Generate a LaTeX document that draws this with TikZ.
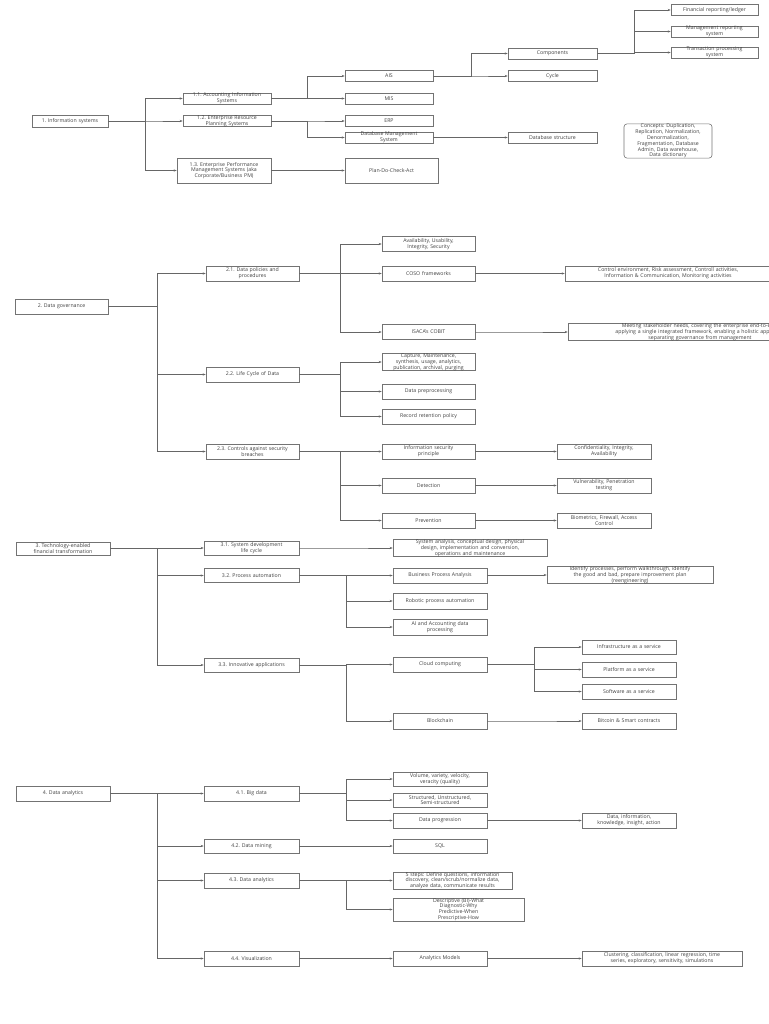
\documentclass[tikz,border=0pt]{standalone}
\usepackage{fontspec}
\setmainfont{Open Sans}
\usetikzlibrary{arrows.meta}
\frenchspacing
\newcommand\boxfont{\fontsize{5.2}{5.8}\selectfont\frenchspacing\hyphenpenalty=10000\relax}
\tikzset{
  box/.style={draw=black!55,line width=0.6pt,inner sep=0pt,align=center,font=\boxfont,text=black!75},
  arr/.style={draw=black!60,line width=0.5pt,-{Stealth[length=3pt,width=2.2pt]}}
}
\newcommand\bx[6]{\node[box,minimum width=#4pt,minimum height=#5pt,text width=#4pt-3pt] (#1) at (#2,#3) {#6};}
\newcommand\lk[3]{\draw[arr] (#1.east) -- (#1.east -| #2) |- (#3.west);}
\begin{document}
\begin{tikzpicture}[x=1pt,y=-1pt]
\useasboundingbox (0,0) rectangle (768,1024);
% ---------- Section 1
\bx{s1}{70}{121}{76}{12}{1. Information systems}
\bx{s11}{227}{98.5}{88}{11}{1.1. Accounting Information\\Systems}
\bx{s12}{227}{121}{88}{11}{1.2. Enterprise Resource\\Planning Systems}
\bx{s13}{224}{170.5}{94}{25}{1.3. Enterprise Performance\\Management Systems (aka\\Corporate/Business PM)}
\bx{ais}{389}{76}{88}{11}{AIS}
\bx{mis}{389}{98.5}{88}{11}{MIS}
\bx{erp}{389}{121}{88}{11}{ERP}
\bx{dbms}{389}{137.5}{88}{11}{Database Management\\System}
\bx{pdca}{391.5}{170.5}{93}{25}{Plan-Do-Check-Act}
\bx{comp}{552.5}{53.5}{89}{11}{Components}
\bx{cyc}{552.5}{76}{89}{11}{Cycle}
\bx{dbs}{552.5}{137.5}{89}{11}{Database structure}
\bx{frl}{714.5}{10}{87}{11}{Financial reporting/ledger}
\bx{mrs}{714.5}{31.5}{87}{11}{Management reporting\\system}
\bx{tps}{714.5}{52.5}{87}{11}{Transaction processing\\system}
\node[box,rounded corners=3pt,minimum width=88pt,minimum height=30pt,text width=85pt] (conc) at (668,141) {Concepts: Duplication,\\Replication, Normalization,\\Denormalization,\\Fragmentation, Database\\Admin, Data warehouse,\\Data dictionary};
\coordinate (b1) at (145,0); \coordinate (b2) at (307,0); \coordinate (b3) at (471,0); \coordinate (b4) at (634,0);
\lk{s1}{b1}{s11}\lk{s1}{b1}{s12}\lk{s1}{b1}{s13}
\lk{s11}{b2}{ais}\lk{s11}{b2}{mis}
\lk{s12}{b2}{erp}\lk{s12}{b2}{dbms}
\lk{s13}{b2}{pdca}
\lk{ais}{b3}{comp}\lk{ais}{b3}{cyc}
\lk{dbms}{b3}{dbs}
\lk{comp}{b4}{frl}\lk{comp}{b4}{mrs}\lk{comp}{b4}{tps}
% ---------- Section 2
\bx{s2}{61.5}{306.5}{93}{15}{2. Data governance}
\bx{s21}{252.5}{273.5}{93}{15}{2.1. Data policies and\\procedures}
\bx{s22}{252.5}{374.5}{93}{15}{2.2. Life Cycle of Data}
\bx{s23}{252.5}{451.5}{93}{15}{2.3. Controls against security\\breaches}
\bx{avail}{428.5}{244}{93}{15}{Availability, Usability,\\Integrity, Security}
\bx{coso}{428.5}{273.5}{93}{15}{COSO frameworks}
\bx{cobit}{428.5}{332}{93}{15}{ISACA's COBIT}
\bx{capt}{428.5}{362}{93}{14}{Capture, Maintenance,\\synthesis, usage, analytics,\\publication, archival, purging}
\bx{prep}{428.5}{391.5}{93}{15}{Data preprocessing}
\bx{rrp}{428.5}{416.5}{93}{15}{Record retention policy}
\bx{isp}{428.5}{451.5}{93}{15}{Information security\\principle}
\bx{det}{428.5}{485.5}{93}{15}{Detection}
\bx{prev}{428.5}{520.5}{93}{15}{Prevention}
\bx{cosod}{668}{273.5}{206}{15}{Control environment, Risk assessment, Controll activities,\\Information \& Communication, Monitoring activities}
\bx{cobitd}{700}{332}{264}{15}{Meeting stakeholder needs, covering the enterprise end-to-end,\\applying a single integrated framework, enabling a holistic approach,\\separating governance from management}
\bx{cia}{604}{451.5}{94}{15}{Confidentiality, Integrity,\\Availability}
\bx{vpt}{604}{485.5}{94}{15}{Vulnerability, Penetration\\testing}
\bx{bfa}{604}{520.5}{94}{15}{Biometrics, Firewall, Access\\Control}
\coordinate (c1) at (157,0); \coordinate (c2) at (340,0); \coordinate (c3) at (520,0);
\lk{s2}{c1}{s21}\lk{s2}{c1}{s22}\lk{s2}{c1}{s23}
\lk{s21}{c2}{avail}\lk{s21}{c2}{coso}\lk{s21}{c2}{cobit}
\lk{s22}{c2}{capt}\lk{s22}{c2}{prep}\lk{s22}{c2}{rrp}
\lk{s23}{c2}{isp}\lk{s23}{c2}{det}\lk{s23}{c2}{prev}
\lk{coso}{c3}{cosod}\lk{cobit}{c3}{cobitd}
\lk{isp}{c3}{cia}\lk{det}{c3}{vpt}\lk{prev}{c3}{bfa}
% ---------- Section 3
\bx{s3}{63}{548.3}{94}{13}{3. Technology-enabled\\financial transformation}
\bx{s31}{251.5}{548}{95}{14}{3.1. System development\\life cycle}
\bx{s32}{251.5}{575.5}{95}{14}{3.2. Process automation}
\bx{s33}{251.5}{665}{95}{14}{3.3. Innovative applications}
\bx{sysa}{470}{548}{154}{14}{System analysis, conceptual design, physical\\design, implementation and conversion,\\operations and maintenance}
\bx{bpa}{440}{575.5}{94}{15}{Business Process Analysis}
\bx{rpa}{440}{601}{94}{16}{Robotic process automation}
\bx{aiacc}{440}{627}{94}{16}{AI and Accounting data\\processing}
\bx{idp}{630}{575}{166}{16}{Identify processes, perform walkthrough, identify\\the good and bad, prepare improvement plan\\(reengineering)}
\bx{cloud}{440}{664.5}{94}{15}{Cloud computing}
\bx{bchain}{440}{721}{94}{16}{Blockchain}
\bx{iaas}{629}{647}{94}{14}{Infrastructure as a service}
\bx{paas}{629}{669.5}{94}{15}{Platform as a service}
\bx{saas}{629}{691.5}{94}{15}{Software as a service}
\bx{btc}{629}{721}{94}{16}{Bitcoin \& Smart contracts}
\coordinate (d1) at (157,0); \coordinate (d2) at (346,0); \coordinate (d3) at (534,0);
\lk{s3}{d1}{s31}\lk{s3}{d1}{s32}\lk{s3}{d1}{s33}
\lk{s31}{d2}{sysa}
\lk{s32}{d2}{bpa}\lk{s32}{d2}{rpa}\lk{s32}{d2}{aiacc}
\lk{s33}{d2}{cloud}\lk{s33}{d2}{bchain}
\lk{bpa}{d3}{idp}
\lk{cloud}{d3}{iaas}\lk{cloud}{d3}{paas}\lk{cloud}{d3}{saas}
\lk{bchain}{d3}{btc}
% ---------- Section 4
\bx{s4}{63}{793.5}{94}{15}{4. Data analytics}
\bx{s41}{251.5}{793.5}{95}{15}{4.1. Big data}
\bx{s42}{251.5}{846}{95}{14}{4.2. Data mining}
\bx{s43}{251.5}{880.5}{95}{15}{4.3. Data analytics}
\bx{s44}{251.5}{958.5}{95}{15}{4.4. Visualization}
\bx{vol}{440}{779}{94}{14}{Volume, variety, velocity,\\veracity (quality)}
\bx{struc}{440}{800}{94}{14}{Structured, Unstructured,\\Semi-structured}
\bx{dprog}{440}{820.5}{94}{15}{Data progression}
\bx{dinfo}{629}{820.5}{94}{15}{Data, information,\\knowledge, insight, action}
\bx{sql}{440}{846}{94}{14}{SQL}
\bx{five}{452.5}{880.5}{119}{15}{5 steps: Define questions, information\\discovery, clean/scrub/normalize data,\\analyze data, communicate results}
\bx{desc}{458.5}{909.5}{131}{23}{Descriptive (BI)-What\\Diagnostic-Why\\Predictive-When\\Prescriptive-How}
\bx{amod}{440}{958.5}{94}{15}{Analytics Models}
\bx{clus}{662}{958.5}{160}{15}{Clustering, classification, linear regression, time\\series, exploratory, sensitivity, simulations}
\coordinate (e1) at (157,0); \coordinate (e2) at (346,0); \coordinate (e3) at (534,0);
\lk{s4}{e1}{s41}\lk{s4}{e1}{s42}\lk{s4}{e1}{s43}\lk{s4}{e1}{s44}
\lk{s41}{e2}{vol}\lk{s41}{e2}{struc}\lk{s41}{e2}{dprog}
\lk{s42}{e2}{sql}
\lk{s43}{e2}{five}\lk{s43}{e2}{desc}
\lk{s44}{e2}{amod}
\lk{dprog}{e3}{dinfo}\lk{amod}{e3}{clus}
\end{tikzpicture}
\end{document}
